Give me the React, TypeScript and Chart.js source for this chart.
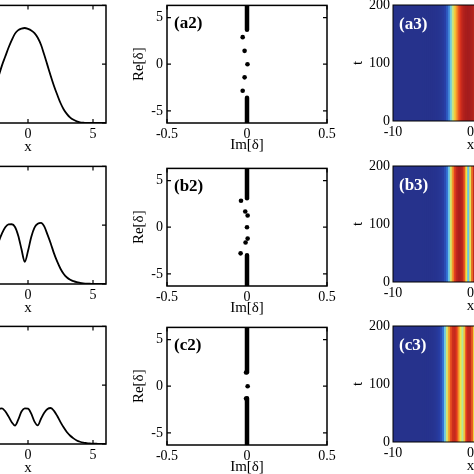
import React, { useEffect, useRef } from "react";
import { Chart, registerables } from "chart.js";

Chart.register(...registerables);

// Sample positions of the stationary profiles
const X_GRID = [
  -6, -5.75, -5.5, -5.25, -5, -4.75, -4.5, -4.25, -4, -3.75, -3.5, -3.25,
  -3, -2.75, -2.5, -2.25, -2, -1.75, -1.5, -1.25, -1, -0.75, -0.5, -0.25,
  0, 0.25, 0.5, 0.75, 1, 1.25, 1.5, 1.75, 2, 2.25, 2.5, 2.75, 3, 3.25, 3.5,
  3.75, 4, 4.25, 4.5, 4.75, 5, 5.25, 5.5, 5.75, 6,
];

// Profile amplitudes on X_GRID (one-hump, two-hump and three-hump states)
const PROFILE_A = [
  0, 0, 0, 0.001, 0.001, 0.003, 0.006, 0.011, 0.021, 0.037, 0.062, 0.1,
  0.155, 0.225, 0.31, 0.4, 0.49, 0.565, 0.64, 0.705, 0.76, 0.79, 0.803, 0.808,
  0.8, 0.787, 0.765, 0.725, 0.665, 0.58, 0.49, 0.4, 0.315, 0.24, 0.17, 0.115,
  0.075, 0.046, 0.027, 0.014, 0.006, 0.003, 0.001, 0, 0, 0, 0, 0, 0,
];
const PROFILE_B = [
  0, 0, 0.001, 0.001, 0.002, 0.004, 0.007, 0.012, 0.02, 0.034, 0.055, 0.085,
  0.13, 0.19, 0.27, 0.36, 0.43, 0.482, 0.507, 0.508, 0.485, 0.41, 0.295, 0.188,
  0.28, 0.4, 0.48, 0.512, 0.52, 0.49, 0.42, 0.345, 0.26, 0.19, 0.13, 0.085,
  0.055, 0.036, 0.024, 0.015, 0.01, 0.006, 0.003, 0.002, 0.001, 0, 0, 0, 0,
];
const PROFILE_C = [
  0, 0, 0.001, 0.002, 0.004, 0.008, 0.013, 0.022, 0.036, 0.055, 0.085, 0.125,
  0.17, 0.22, 0.265, 0.295, 0.303, 0.278, 0.235, 0.185, 0.157, 0.207, 0.276, 0.303,
  0.3, 0.258, 0.19, 0.158, 0.215, 0.265, 0.298, 0.306, 0.282, 0.238, 0.186, 0.14,
  0.1, 0.07, 0.048, 0.03, 0.019, 0.012, 0.008, 0.005, 0.003, 0.002, 0.001, 0, 0,
];

// Linear spectra: discrete eigenvalues (Im, Re) and continuous bands on Im = 0
const SPEC_A_IM = [-0.027, -0.015, 0.003, -0.015, -0.027];
const SPEC_A_RE = [2.9, 1.43, 0, -1.41, -2.85];
const SPEC_A_BAND_UP = [3.7, 6.3];
const SPEC_A_BAND_DOWN = [-3.6, -6.3];

const SPEC_B_IM = [-0.0375, -0.011, 0.004, 0, 0.004, -0.009, -0.04];
const SPEC_B_RE = [2.84, 1.68, 1.26, 0, -1.22, -1.64, -2.8];
const SPEC_B_BAND_UP = [3.1, 6.3];
const SPEC_B_BAND_DOWN = [-3.0, -6.3];

const SPEC_C_IM = [-0.006, 0.004, -0.006];
const SPEC_C_RE = [1.47, 0, -1.32];
const SPEC_C_BAND_UP = [1.5, 6.3];
const SPEC_C_BAND_DOWN = [-1.3, -6.3];

// Axes
const PROFILE_X_RANGE = [-6, 6];
const PROFILE_Y_RANGE = [0, 1];
const PROFILE_X_TICKS = [-5, 0, 5];
const PROFILE_Y_TICKS = [0, 0.5, 1];
const SPEC_X_RANGE = [-0.5, 0.5];
const SPEC_Y_RANGE = [-6.3, 6.3];
const SPEC_X_TICKS = [-0.5, 0, 0.5];
const SPEC_Y_TICKS = [-5, 0, 5];
const EVOL_X_RANGE = [-10, 10];
const EVOL_T_RANGE = [0, 200];
const EVOL_X_TICKS = [-10, 0, 10];
const EVOL_T_TICKS = [0, 100, 200];

// Colour-scale maximum of each evolution map
const EVOL_VMAX = [0.81, 0.52, 0.33];

const SPEC_LABELS = ["(a2)", "(b2)", "(c2)"];
const EVOL_LABELS = ["(a3)", "(b3)", "(c3)"];

const SERIF = "'Liberation Serif', 'Times New Roman', serif";
const TICK_FONT = { family: SERIF, size: 14 };
const TITLE_FONT = { family: SERIF, size: 15 };
const PAD_T = 12;
const PAD_R = 18;

// jet-like colour map
const HEAT_STOPS: [number, number[]][] = [
  [0, [38, 50, 140]],
  [0.12, [40, 62, 165]],
  [0.25, [50, 110, 210]],
  [0.36, [100, 195, 235]],
  [0.46, [170, 230, 170]],
  [0.56, [240, 230, 70]],
  [0.7, [245, 150, 40]],
  [0.84, [225, 55, 30]],
  [1, [165, 28, 28]],
];

function heatColor(v: number): string {
  const t = Math.max(0, Math.min(1, v));
  for (let i = 1; i < HEAT_STOPS.length; i++) {
    const [p0, c0] = HEAT_STOPS[i - 1];
    const [p1, c1] = HEAT_STOPS[i];
    if (t <= p1) {
      const f = (t - p0) / (p1 - p0);
      return `rgb(${c0.map((c, k) => Math.round(c + (c1[k] - c) * f)).join(",")})`;
    }
  }
  const last = HEAT_STOPS[HEAT_STOPS.length - 1][1];
  return `rgb(${last.join(",")})`;
}

// Box frame with inward ticks, optional background and panel tag
const frame = {
  id: "frame",
  beforeDatasetsDraw(chart: any, _a: any, o: any) {
    if (!o.fill) return;
    const { ctx, chartArea: a } = chart;
    ctx.save();
    ctx.fillStyle = o.fill;
    ctx.fillRect(a.left, a.top, a.width, a.height);
    ctx.restore();
  },
  afterDatasetsDraw(chart: any, _a: any, o: any) {
    const { ctx, chartArea: a, scales } = chart;
    ctx.save();
    ctx.strokeStyle = "#000";
    if (o.tickLen) {
      ctx.beginPath();
      const xs = scales.x;
      const ys = scales.y;
      xs.ticks.forEach((t: any) => {
        const p = xs.getPixelForValue(t.value);
        ctx.moveTo(p, a.bottom);
        ctx.lineTo(p, a.bottom - o.tickLen);
        ctx.moveTo(p, a.top);
        ctx.lineTo(p, a.top + o.tickLen);
      });
      ys.ticks.forEach((t: any) => {
        const p = ys.getPixelForValue(t.value);
        ctx.moveTo(a.left, p);
        ctx.lineTo(a.left + o.tickLen, p);
        ctx.moveTo(a.right, p);
        ctx.lineTo(a.right - o.tickLen, p);
      });
      ctx.lineWidth = 1.2;
      ctx.stroke();
    }
    ctx.lineWidth = o.lineWidth;
    ctx.strokeRect(a.left, a.top, a.width, a.height);
    if (o.label) {
      ctx.font = `bold 17px ${SERIF}`;
      ctx.fillStyle = o.labelColor;
      ctx.textBaseline = "alphabetic";
      ctx.textAlign = "left";
      ctx.fillText(o.label, a.left + o.lx, a.top + o.ly);
    }
    ctx.restore();
  },
};

function baseOptions(frameOpts: any) {
  return {
    responsive: false,
    animation: false as const,
    devicePixelRatio: 1,
    events: [],
    layout: { padding: { top: PAD_T, right: PAD_R, left: 0, bottom: 0 } },
    plugins: {
      legend: { display: false },
      tooltip: { enabled: false },
      frame: frameOpts,
    },
  };
}

function linAxis(
  pos: "bottom" | "left",
  range: number[],
  ticks: number[],
  title: string,
  size: number,
  pad: number
) {
  const horizontal = pos === "bottom";
  return {
    type: "linear",
    position: pos,
    min: range[0],
    max: range[1],
    bounds: "data",
    offset: false,
    grid: { display: false, drawTicks: false },
    border: { display: false },
    afterBuildTicks: (s: any) => {
      s.ticks = ticks.map((v) => ({ value: v }));
    },
    ticks: {
      autoSkip: false,
      maxRotation: 0,
      minRotation: 0,
      padding: pad,
      color: "#000",
      font: TICK_FONT,
      callback: (v: any) => String(v),
    },
    title: { display: !!title, text: title, color: "#000", font: TITLE_FONT, padding: 0 },
    afterFit: (s: any) => {
      if (horizontal) s.height = size;
      else s.width = size;
    },
  };
}

function profileConfig(profile: number[]) {
  return {
    type: "line",
    data: {
      datasets: [
        {
          data: X_GRID.map((x, i) => ({ x, y: profile[i] })),
          borderColor: "#000",
          borderWidth: 1.8,
          pointRadius: 0,
          cubicInterpolationMode: "monotone",
          fill: false,
          clip: 0,
        },
      ],
    },
    options: {
      ...baseOptions({ lineWidth: 1.5, tickLen: 4 }),
      scales: {
        x: linAxis("bottom", PROFILE_X_RANGE, PROFILE_X_TICKS, "x", 33, 3),
        y: linAxis("left", PROFILE_Y_RANGE, PROFILE_Y_TICKS, "", 40, 4),
      },
    },
    plugins: [frame],
  };
}

function bandData(band: number[]) {
  return band.map((re) => ({ x: 0, y: re }));
}

function spectrumConfig(im: number[], re: number[], up: number[], down: number[], label: string) {
  const band = (b: number[]) => ({
    data: bandData(b),
    showLine: true,
    borderColor: "#000",
    borderWidth: 4.5,
    borderCapStyle: "round",
    pointRadius: 0,
    clip: 0,
  });
  return {
    type: "scatter",
    data: {
      datasets: [
        band(up),
        band(down),
        {
          data: im.map((x, i) => ({ x, y: re[i] })),
          backgroundColor: "#000",
          borderWidth: 0,
          pointRadius: 2.3,
          clip: 0,
        },
      ],
    },
    options: {
      ...baseOptions({ lineWidth: 1.5, tickLen: 4, label, labelColor: "#000", lx: 7, ly: 23 }),
      scales: {
        x: linAxis("bottom", SPEC_X_RANGE, SPEC_X_TICKS, "Im[δ]", 31, 3),
        y: linAxis("left", SPEC_Y_RANGE, SPEC_Y_TICKS, "Re[δ]", 37, 4),
      },
    },
    plugins: [frame],
  };
}

function evolutionConfig(profile: number[], vmax: number, label: string) {
  return {
    type: "bar",
    data: {
      datasets: [
        {
          data: X_GRID.map((x) => ({ x, y: [EVOL_T_RANGE[0], EVOL_T_RANGE[1]] })),
          backgroundColor: profile.map((v) => heatColor(v / vmax)),
          borderWidth: 0,
          barPercentage: 1,
          categoryPercentage: 1,
        },
      ],
    },
    options: {
      ...baseOptions({
        lineWidth: 1,
        tickLen: 0,
        fill: heatColor(0),
        label,
        labelColor: "#fff",
        lx: 6,
        ly: 24,
      }),
      scales: {
        x: linAxis("bottom", EVOL_X_RANGE, EVOL_X_TICKS, "x", 33, 3),
        y: linAxis("left", EVOL_T_RANGE, EVOL_T_TICKS, "t", 44, 3),
      },
    },
    plugins: [frame],
  };
}

type PanelProps = { x: number; y: number; w: number; h: number; axL: number; axB: number; make: () => any };

function Panel({ x, y, w, h, axL, axB, make }: PanelProps) {
  const ref = useRef<HTMLCanvasElement>(null);
  useEffect(() => {
    const chart = new Chart(ref.current as HTMLCanvasElement, make());
    return () => chart.destroy();
  }, []);
  const cw = axL + w + PAD_R;
  const ch = PAD_T + h + axB;
  return (
    <canvas
      ref={ref}
      width={cw}
      height={ch}
      style={{ position: "absolute", left: x - axL, top: y - PAD_T, width: cw, height: ch }}
    />
  );
}

const PROFILES = [PROFILE_A, PROFILE_B, PROFILE_C];
const SPECTRA = [
  [SPEC_A_IM, SPEC_A_RE, SPEC_A_BAND_UP, SPEC_A_BAND_DOWN],
  [SPEC_B_IM, SPEC_B_RE, SPEC_B_BAND_UP, SPEC_B_BAND_DOWN],
  [SPEC_C_IM, SPEC_C_RE, SPEC_C_BAND_UP, SPEC_C_BAND_DOWN],
];
const ROW_TOP_PROFILE = [5, 166, 326];
const ROW_TOP_SPEC = [5, 168, 327];
const ROW_TOP_EVOL = [5, 166, 326];

export default function App() {
  return (
    <div
      style={{
        position: "absolute",
        left: 0,
        top: 0,
        width: 474,
        height: 474,
        overflow: "hidden",
        background: "#fff",
      }}
    >
      {[0, 1, 2].map((r) => (
        <React.Fragment key={r}>
          <Panel
            x={-50}
            y={ROW_TOP_PROFILE[r]}
            w={156}
            h={118}
            axL={40}
            axB={33}
            make={() => profileConfig(PROFILES[r])}
          />
          <Panel
            x={167}
            y={ROW_TOP_SPEC[r]}
            w={160}
            h={118}
            axL={37}
            axB={31}
            make={() =>
              spectrumConfig(SPECTRA[r][0], SPECTRA[r][1], SPECTRA[r][2], SPECTRA[r][3], SPEC_LABELS[r])
            }
          />
          <Panel
            x={393}
            y={ROW_TOP_EVOL[r]}
            w={155}
            h={116}
            axL={44}
            axB={33}
            make={() => evolutionConfig(PROFILES[r], EVOL_VMAX[r], EVOL_LABELS[r])}
          />
        </React.Fragment>
      ))}
    </div>
  );
}
